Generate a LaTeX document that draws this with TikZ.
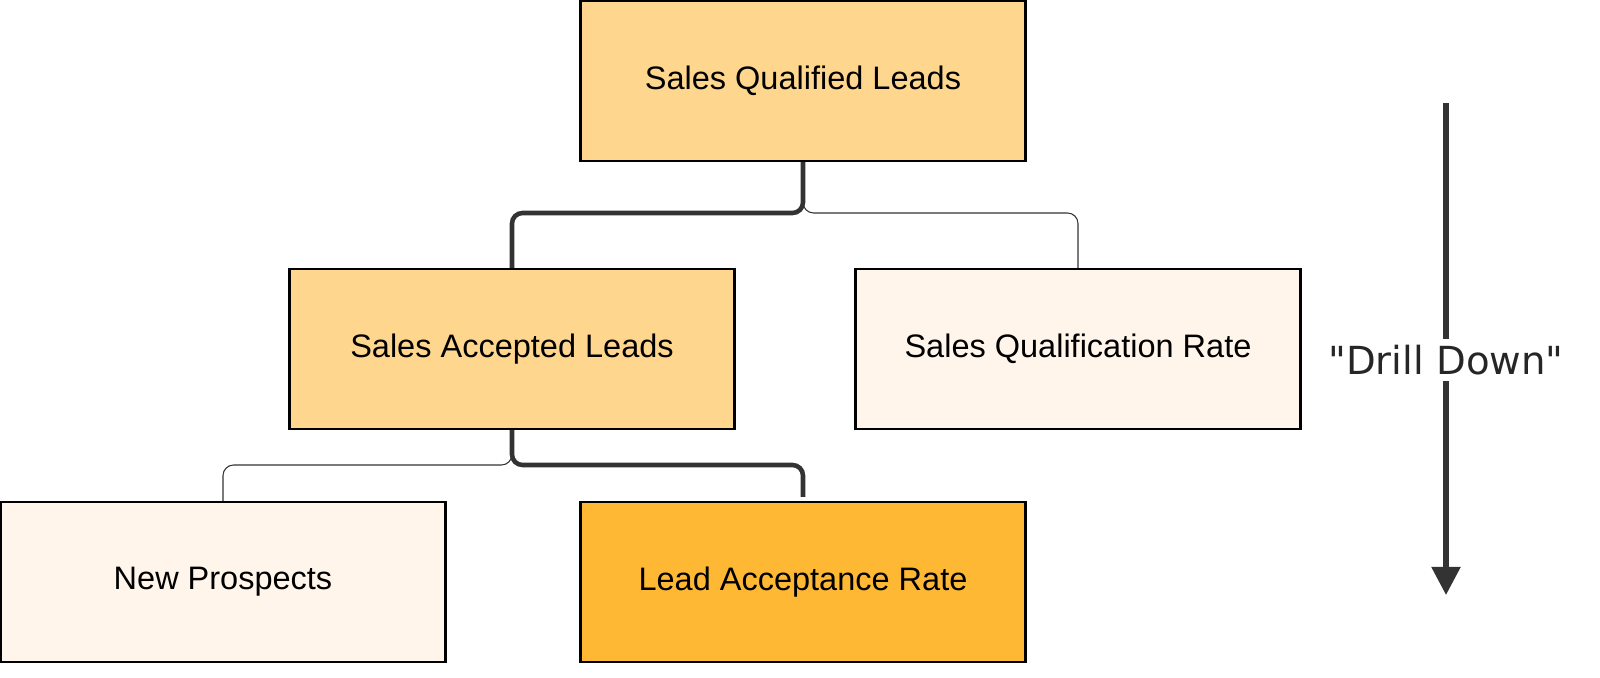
\documentclass[tikz,border=0pt]{standalone}
\usepackage{fontspec}
\setmainfont{Liberation Sans}
\newfontfamily\dv{DejaVu Sans}
\usetikzlibrary{arrows.meta}
\definecolor{c1}{HTML}{FFD68E}\definecolor{c2}{HTML}{FFF5EB}\definecolor{c3}{HTML}{FFB833}
\begin{document}
\begin{tikzpicture}[x=0.02cm,y=-0.02cm,
 box/.style={draw=black,line width=1.2pt,minimum width=8.9cm,minimum height=3.2cm,font=\fontsize{18.5}{22}\selectfont,inner sep=0pt},
 thick/.style={line width=2.6pt,draw=black!80,rounded corners=6pt},
 thin/.style={line width=0.6pt,draw=black!80,rounded corners=6pt}]
\clip (0,0) rectangle (1600,678);
\useasboundingbox (0,0) rectangle (1600,678);
\node[box,fill=c1] (sql) at (803,81) {Sales Qualified Leads};
\node[box,fill=c1] (sal) at (512,349) {Sales Accepted Leads};
\node[box,fill=c2] (sqr) at (1078,349) {Sales Qualification Rate};
\node[box,fill=c2] (np) at (223,582) {New Prospects};
\node[box,fill=c3] (lar) at (803,582) {Lead Acceptance Rate};
\draw[thin] (sql.south) -- (803,213) -- (1078,213) -- (sqr.north);
\draw[thick] (sql.south) -- (803,213) -- (512,213) -- (sal.north);
\draw[thin] (sal.south) -- (512,465) -- (223,465) -- (np.north);
\draw[thick] (sal.south) -- (512,465) -- (803,465) -- (803,497);
\node[font=\dv\fontsize{22}{26}\selectfont,text=black!85] (dd) at (1446,360) {"Drill Down"};
\coordinate (top) at (1446,103);
\coordinate (bot) at (1446,595);
\draw[line width=3pt,draw=black!80] (top) -- (dd.north);
\draw[line width=3pt,draw=black!80,-{Triangle[length=16pt,width=16pt]}] (dd.south) -- (bot);
\end{tikzpicture}
\end{document}
